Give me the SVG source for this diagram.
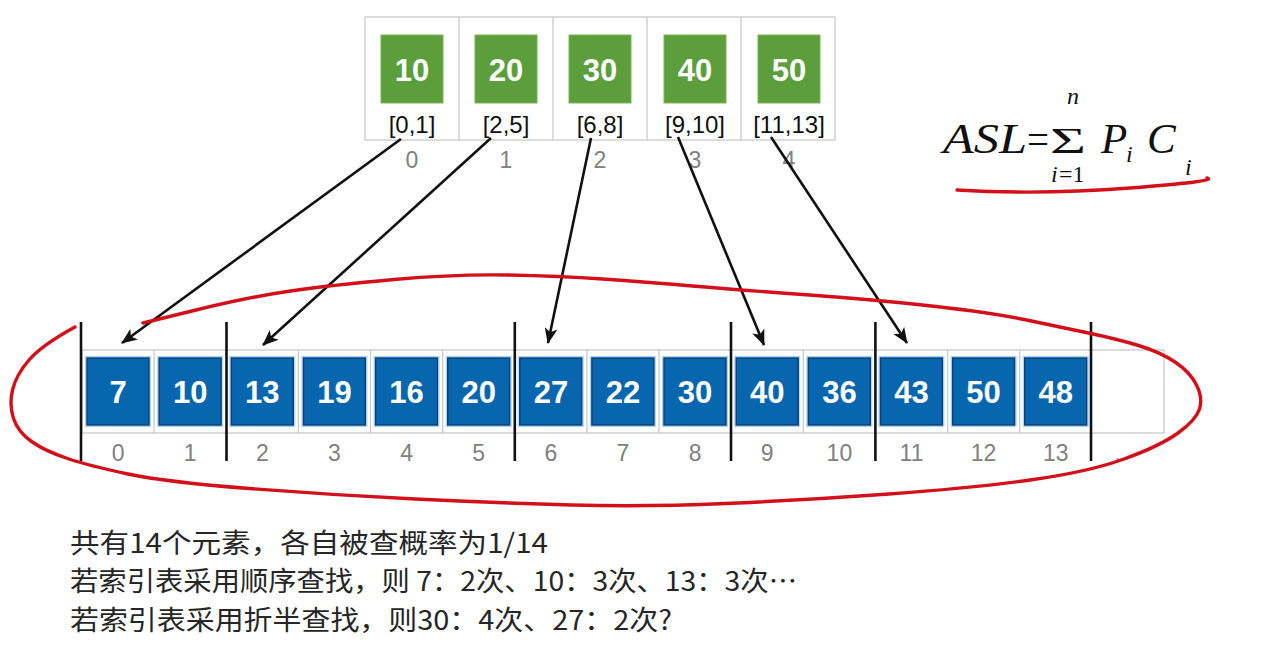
<svg xmlns="http://www.w3.org/2000/svg" width="1286" height="667" viewBox="0 0 1286 667">
<defs>
<style>
.grid{fill:none;stroke:#c9c9c9;stroke-width:1.3}
.gbox{fill:#5c9e3b;stroke:#79b553;stroke-width:1}
.bbox{fill:#0766ae;stroke:#0c3e78;stroke-width:1.5}
.halo{fill:none;stroke:#9fd8f7;stroke-width:1}
.num{font-family:"Liberation Sans",Arial,sans-serif;font-weight:bold;font-size:31px;fill:#fff;text-anchor:middle}
.rng{font-family:"Liberation Sans",Arial,sans-serif;font-size:24px;fill:#111;text-anchor:middle}
.idx{font-family:"Liberation Sans",Arial,sans-serif;font-size:23px;fill:#808080;text-anchor:middle}
.div{stroke:#111;stroke-width:2.6}
.arr{stroke:#111;stroke-width:2.6;fill:none;marker-end:url(#ah)}
.red{fill:none;stroke:#d3101a;stroke-width:3.4;stroke-linecap:round;stroke-linejoin:round}
.cn{font-family:"Noto Sans CJK SC","Noto Sans",sans-serif;font-size:27px;fill:#262626}
.f{font-family:"Liberation Serif","Times New Roman",serif;fill:#111}
</style>
<marker id="ah" viewBox="0 0 16 13" refX="15" refY="6.5" markerWidth="16" markerHeight="13" markerUnits="userSpaceOnUse" orient="auto">
<path d="M0,0 L16,6.5 L0,13 L4,6.5 Z" fill="#111"/>
</marker>
</defs>
<rect width="1286" height="667" fill="#fff"/>

<g id="index-table">
<rect class="grid" x="365" y="17" width="470" height="123"/>
<line class="grid" x1="459" y1="17" x2="459" y2="140"/>
<line class="grid" x1="553" y1="17" x2="553" y2="140"/>
<line class="grid" x1="647" y1="17" x2="647" y2="140"/>
<line class="grid" x1="741" y1="17" x2="741" y2="140"/>
</g>
<g id="idx0"><rect class="gbox" x="381" y="35" width="62" height="68"/><text class="num" x="412" y="81">10</text><text class="rng" x="412" y="133">[0,1]</text><text class="idx" x="412" y="168">0</text></g>
<g id="idx1"><rect class="gbox" x="475" y="35" width="62" height="68"/><text class="num" x="506" y="81">20</text><text class="rng" x="506" y="133">[2,5]</text><text class="idx" x="506" y="168">1</text></g>
<g id="idx2"><rect class="gbox" x="569" y="35" width="62" height="68"/><text class="num" x="600" y="81">30</text><text class="rng" x="600" y="133">[6,8]</text><text class="idx" x="600" y="168">2</text></g>
<g id="idx3"><rect class="gbox" x="664" y="35" width="62" height="68"/><text class="num" x="695" y="81">40</text><text class="rng" x="695" y="133">[9,10]</text><text class="idx" x="695" y="168">3</text></g>
<g id="idx4"><rect class="gbox" x="758" y="35" width="62" height="68"/><text class="num" x="789" y="81">50</text><text class="rng" x="789" y="133">[11,13]</text><text class="idx" x="789" y="168">4</text></g>

<g id="array-grid">
<rect class="grid" x="82" y="350" width="1082" height="83"/>
<line class="grid" x1="154.1" y1="350" x2="154.1" y2="433"/>
<line class="grid" x1="298.4" y1="350" x2="298.4" y2="433"/>
<line class="grid" x1="370.5" y1="350" x2="370.5" y2="433"/>
<line class="grid" x1="442.7" y1="350" x2="442.7" y2="433"/>
<line class="grid" x1="586.9" y1="350" x2="586.9" y2="433"/>
<line class="grid" x1="659" y1="350" x2="659" y2="433"/>
<line class="grid" x1="803.3" y1="350" x2="803.3" y2="433"/>
<line class="grid" x1="947.6" y1="350" x2="947.6" y2="433"/>
<line class="grid" x1="1019.7" y1="350" x2="1019.7" y2="433"/>
</g>
<g id="a0"><rect class="halo" x="85.5" y="356.5" width="65" height="70"/><rect class="bbox" x="87" y="358" width="62" height="67"/><text class="num" x="118.1" y="403">7</text><text class="idx" x="118.1" y="461">0</text></g>
<g id="a1"><rect class="halo" x="157.6" y="356.5" width="65" height="70"/><rect class="bbox" x="159.1" y="358" width="62" height="67"/><text class="num" x="190.2" y="403">10</text><text class="idx" x="190.2" y="461">1</text></g>
<g id="a2"><rect class="halo" x="229.8" y="356.5" width="65" height="70"/><rect class="bbox" x="231.3" y="358" width="62" height="67"/><text class="num" x="262.3" y="403">13</text><text class="idx" x="262.3" y="461">2</text></g>
<g id="a3"><rect class="halo" x="301.9" y="356.5" width="65" height="70"/><rect class="bbox" x="303.4" y="358" width="62" height="67"/><text class="num" x="334.5" y="403">19</text><text class="idx" x="334.5" y="461">3</text></g>
<g id="a4"><rect class="halo" x="374" y="356.5" width="65" height="70"/><rect class="bbox" x="375.5" y="358" width="62" height="67"/><text class="num" x="406.6" y="403">16</text><text class="idx" x="406.6" y="461">4</text></g>
<g id="a5"><rect class="halo" x="446.2" y="356.5" width="65" height="70"/><rect class="bbox" x="447.7" y="358" width="62" height="67"/><text class="num" x="478.7" y="403">20</text><text class="idx" x="478.7" y="461">5</text></g>
<g id="a6"><rect class="halo" x="518.3" y="356.5" width="65" height="70"/><rect class="bbox" x="519.8" y="358" width="62" height="67"/><text class="num" x="550.9" y="403">27</text><text class="idx" x="550.9" y="461">6</text></g>
<g id="a7"><rect class="halo" x="590.4" y="356.5" width="65" height="70"/><rect class="bbox" x="591.9" y="358" width="62" height="67"/><text class="num" x="623" y="403">22</text><text class="idx" x="623" y="461">7</text></g>
<g id="a8"><rect class="halo" x="662.5" y="356.5" width="65" height="70"/><rect class="bbox" x="664" y="358" width="62" height="67"/><text class="num" x="695.1" y="403">30</text><text class="idx" x="695.1" y="461">8</text></g>
<g id="a9"><rect class="halo" x="734.7" y="356.5" width="65" height="70"/><rect class="bbox" x="736.2" y="358" width="62" height="67"/><text class="num" x="767.2" y="403">40</text><text class="idx" x="767.2" y="461">9</text></g>
<g id="a10"><rect class="halo" x="806.8" y="356.5" width="65" height="70"/><rect class="bbox" x="808.3" y="358" width="62" height="67"/><text class="num" x="839.4" y="403">36</text><text class="idx" x="839.4" y="461">10</text></g>
<g id="a11"><rect class="halo" x="878.9" y="356.5" width="65" height="70"/><rect class="bbox" x="880.4" y="358" width="62" height="67"/><text class="num" x="911.5" y="403">43</text><text class="idx" x="911.5" y="461">11</text></g>
<g id="a12"><rect class="halo" x="951.1" y="356.5" width="65" height="70"/><rect class="bbox" x="952.6" y="358" width="62" height="67"/><text class="num" x="983.6" y="403">50</text><text class="idx" x="983.6" y="461">12</text></g>
<g id="a13"><rect class="halo" x="1023.2" y="356.5" width="65" height="70"/><rect class="bbox" x="1024.7" y="358" width="62" height="67"/><text class="num" x="1055.8" y="403">48</text><text class="idx" x="1055.8" y="461">13</text></g>
<g id="a-more"><text class="idx" x="1122" y="460" style="font-size:16px">...</text></g>

<g id="block-dividers">
<line class="div" x1="81" y1="322" x2="81" y2="461"/>
<line class="div" x1="226.5" y1="322" x2="226.5" y2="461"/>
<line class="div" x1="514.8" y1="322" x2="514.8" y2="461"/>
<line class="div" x1="731" y1="322" x2="731" y2="461"/>
<line class="div" x1="875.4" y1="322" x2="875.4" y2="461"/>
<line class="div" x1="1091" y1="322" x2="1091" y2="461"/>
</g>

<g id="connectors">
<line class="arr" x1="401" y1="139" x2="122" y2="343"/>
<line class="arr" x1="491" y1="138" x2="263" y2="345"/>
<line class="arr" x1="591" y1="138" x2="548" y2="343"/>
<line class="arr" x1="678" y1="137" x2="764" y2="345"/>
<line class="arr" x1="771" y1="137" x2="907" y2="343"/>
</g>

<g id="formula">
<text class="f" x="943" y="153" style="font-size:43px;font-style:italic" textLength="84" lengthAdjust="spacingAndGlyphs">ASL</text>
<text class="f" x="1027" y="153" style="font-size:42px" textLength="22" lengthAdjust="spacingAndGlyphs">=</text>
<text class="f" x="1050" y="153" style="font-size:36px" textLength="36" lengthAdjust="spacingAndGlyphs">Σ</text>
<text class="f" x="1067" y="104" style="font-size:24px;font-style:italic">n</text>
<text class="f" x="1051" y="182" style="font-size:24px;font-style:italic">i</text>
<text class="f" x="1059" y="182" style="font-size:24px">=1</text>
<text class="f" x="1101" y="153" style="font-size:43px;font-style:italic">P</text>
<text class="f" x="1126" y="162" style="font-size:24px;font-style:italic">i</text>
<text class="f" x="1147" y="153" style="font-size:43px;font-style:italic">C</text>
<text class="f" x="1185" y="175" style="font-size:24px;font-style:italic">i</text>
</g>

<g id="annotations">
<path class="red" d="M75,327 Q42,345 29,360 Q16,375 12.5,390 Q9,405 13.5,418.5 Q18,432 31.5,441.5 Q45,451 67.5,458.5 Q90,466 128,474 Q166,482 249,488.5 Q332,495 415,499 Q498,503 571.5,505 Q645,507 725.5,503.5 Q806,500 889,494 Q972,488 1030,480 Q1088,472 1124,459 Q1160,446 1178,433 Q1196,420 1199.5,409 Q1203,398 1196.5,385 Q1190,372 1175,362 Q1160,352 1138.5,345.5 Q1117,339 1088.5,333 Q1060,327 1026.5,320 Q993,313 936,306.5 Q879,300 809.5,295 Q740,290 692.5,286 Q645,282 602.5,279 Q560,276 508,275 Q456,274 394,279.5 Q332,285 290.5,291 Q249,297 196,310 L143,323"/>
<path class="red" d="M957,190 Q1040,195 1130,188 T1207,178"/>
</g>

<g id="notes">
<text class="cn" x="70" y="553" textLength="478" lengthAdjust="spacingAndGlyphs">共有14个元素，各自被查概率为1/14</text>
<text class="cn" x="70" y="591" textLength="727" lengthAdjust="spacingAndGlyphs">若索引表采用顺序查找，则 7：2次、10：3次、13：3次…</text>
<text class="cn" x="70" y="630" textLength="602" lengthAdjust="spacingAndGlyphs">若索引表采用折半查找，则30：4次、27：2次?</text>
</g>
</svg>
